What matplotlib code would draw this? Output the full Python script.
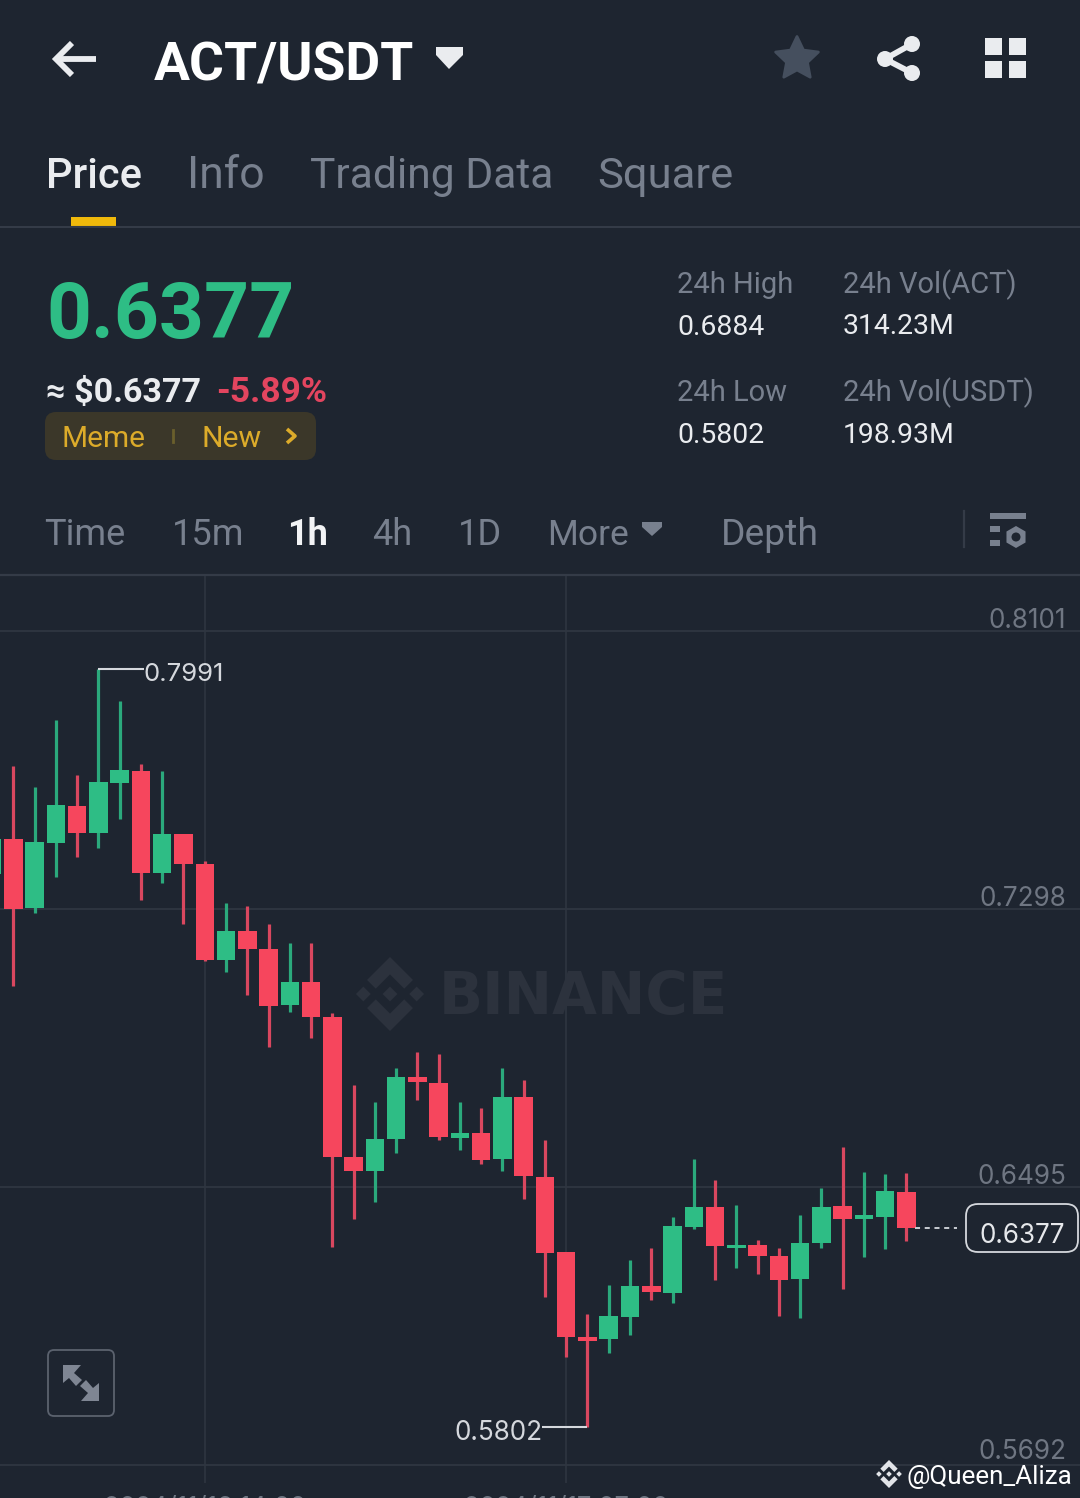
import matplotlib
matplotlib.use("Agg")
import matplotlib.pyplot as plt
from matplotlib.patches import FancyBboxPatch, Polygon, Circle, Rectangle
import numpy as np

# ---------- data ----------
candle_index = list(range(-1, 43))
opens = [0.7399, 0.7500, 0.7301, 0.7489, 0.7595, 0.7517, 0.7662, 0.7697, 0.7402, 0.7515, 0.7428,
         0.7151, 0.7234, 0.7183, 0.7021, 0.7087, 0.6986, 0.6582, 0.6542, 0.6634, 0.6813, 0.6795,
         0.6637, 0.6651, 0.6576, 0.6754, 0.6524, 0.6307, 0.6062, 0.6056, 0.6119, 0.6209, 0.6189,
         0.6379, 0.6437, 0.6319, 0.6327, 0.6296, 0.6229, 0.6333, 0.6440, 0.6403, 0.6408, 0.6480]
closes = [0.7500, 0.7298, 0.7492, 0.7598, 0.7517, 0.7665, 0.7699, 0.7402, 0.7515, 0.7428, 0.7151,
          0.7234, 0.7183, 0.7018, 0.7087, 0.6986, 0.6582, 0.6542, 0.6634, 0.6813, 0.6798, 0.6640,
          0.6651, 0.6573, 0.6754, 0.6527, 0.6304, 0.6062, 0.6050, 0.6122, 0.6209, 0.6192, 0.6382,
          0.6437, 0.6325, 0.6327, 0.6296, 0.6226, 0.6333, 0.6437, 0.6403, 0.6414, 0.6483, 0.6377]
highs = [0.7540, 0.7711, 0.7650, 0.7844, 0.7685, 0.7991, 0.7899, 0.7717, 0.7697, 0.7515, 0.7437,
         0.7315, 0.7306, 0.7255, 0.7200, 0.7200, 0.6997, 0.6789, 0.6741, 0.6839, 0.6885, 0.6879,
         0.6741, 0.6723, 0.6839, 0.6804, 0.6631, 0.6307, 0.6128, 0.6212, 0.6284, 0.6318, 0.6408,
         0.6576, 0.6515, 0.6443, 0.6342, 0.6319, 0.6414, 0.6492, 0.6611, 0.6538, 0.6533, 0.6535]
lows = [0.7370, 0.7076, 0.7286, 0.7390, 0.7448, 0.7474, 0.7558, 0.7324, 0.7373, 0.7255, 0.7148,
        0.7116, 0.7050, 0.6899, 0.7000, 0.6925, 0.6322, 0.6403, 0.6451, 0.6594, 0.6746, 0.6631,
        0.6602, 0.6562, 0.6542, 0.6461, 0.6177, 0.6003, 0.5802, 0.6015, 0.6068, 0.6169, 0.6160,
        0.6374, 0.6226, 0.6261, 0.6244, 0.6122, 0.6116, 0.6319, 0.6200, 0.6293, 0.6316, 0.6339]
price_ticks = [0.8101, 0.7298, 0.6495, 0.5692]
price_labels = ["0.8101", "0.7298", "0.6495", "0.5692"]
time_ticks = [9, 26]
time_labels = ["2024/11/16 14:00", "2024/11/17 07:00"]
high_mark = (4, 0.7991)
low_mark = (27, 0.5802)
last_price = 0.6377

BG = "#1e2530"
GRID = "#2f3641"
GREEN = "#2ebd85"
RED = "#f6465d"
WICK_RED = "#d9475f"
WICK_GREEN = "#2ba97c"
GREY = "#78808e"
WHITE = "#eaecef"
AXIS = "#6f7682"
GOLD = "#dcab2a"
CHART_FONT = "Inter"

W, H = 1080, 1498
fig = plt.figure(figsize=(W / 100, H / 100), dpi=100, facecolor=BG)

# ---------- chart axes (price scale) ----------
chart_top_px = 576
ax = fig.add_axes([0, 0, 1, (H - chart_top_px) / H])
ax.set_facecolor(BG)
px_per_price = 278 / 0.0803
ax.set_ylim(0.8101 - (H - 631) / px_per_price, 0.8101 + (631 - chart_top_px) / px_per_price)
step = 21.262
ax.set_xlim(-13.4 / step, (W - 13.4) / step)
for s in ax.spines.values():
    s.set_visible(False)
ax.set_xticks([])
ax.set_yticks([])
for p in price_ticks:
    ax.axhline(p, color=GRID, lw=1.3, zorder=1)
vline_bottom = ax.get_ylim()[0] + 15 / px_per_price
ax.vlines(time_ticks, vline_bottom, ax.get_ylim()[1], color=GRID, lw=1.1, zorder=1)

up = [c >= o for o, c in zip(opens, closes)]
wick_colors = [WICK_GREEN if u else WICK_RED for u in up]
body_colors = [GREEN if u else RED for u in up]
ax.vlines(candle_index, lows, highs, colors=wick_colors, lw=2.3, zorder=3)
ax.bar(candle_index, np.array(closes) - np.array(opens), bottom=opens, width=18.5 / step,
       color=body_colors, zorder=4, linewidth=0)

for p, lab in zip(price_ticks, price_labels):
    off = 6 if lab == price_labels[-1] else 3
    ax.annotate(lab, xy=(1, p), xycoords=ax.get_yaxis_transform(), xytext=(-14, off),
                textcoords="offset pixels", ha="right", va="baseline", color=AXIS,
                fontsize=18.8, family=CHART_FONT, zorder=5)
for t, lab in zip(time_ticks, time_labels):
    ax.annotate(lab, xy=(t, 0), xycoords=ax.get_xaxis_transform(), xytext=(0, -16),
                textcoords="offset pixels", ha="center", va="baseline", color=AXIS,
                fontsize=18.3, family=CHART_FONT, annotation_clip=False)

# high / low markers
hx, hy = high_mark
ax.plot([hx, hx + 46 / step], [hy, hy], color="#d5d8dd", lw=1.5, zorder=5, solid_capstyle="butt")
ax.annotate(f"{hy:.4f}", xy=(hx + 45 / step, hy), xytext=(0, -12), textcoords="offset pixels",
            ha="left", va="baseline", color="#d5d8dd", fontsize=18.5, family=CHART_FONT, zorder=5)
lx, ly = low_mark
ax.plot([lx - 45 / step, lx], [ly, ly], color="#d5d8dd", lw=1.5, zorder=5, solid_capstyle="butt")
ax.annotate(f"{ly:.4f}", xy=(lx - 45 / step, ly), xytext=(0, -13), textcoords="offset pixels",
            ha="right", va="baseline", color="#d5d8dd", fontsize=18.8, family=CHART_FONT, zorder=5)
# last price
ax.plot([42 + 9 / step, 42 + 51 / step], [last_price, last_price], color="#c8ccd2", lw=1.4,
        dashes=(2.6, 2.4), zorder=5)

# ---------- overlay in pixel coordinates for the app interface ----------
ui = fig.add_axes([0, 0, 1, 1], facecolor="none")
ui.set_xlim(0, W)
ui.set_ylim(H, 0)
ui.axis("off")


def T(x, y, s, size, color=GREY, weight="normal", ha="left", family="Roboto", **kw):
    ui.text(x, y, s, fontsize=size, color=color, fontweight=weight, ha=ha, va="baseline",
            family=family, **kw)


def logo(cx, cy, r, color, z=2):
    d = r * 0.2
    for dx, dy in [(0, 0), (-r * 0.72, 0), (r * 0.72, 0)]:
        ui.add_patch(Polygon([(cx + dx - d, cy + dy), (cx + dx, cy + dy - d), (cx + dx + d, cy + dy),
                              (cx + dx, cy + dy + d)], fc=color, ec="none", zorder=z))
    for sgn in (-1, 1):
        b = r * 0.62
        ui.add_patch(Polygon([(cx, cy + sgn * r), (cx + b, cy + sgn * (r - b)),
                              (cx + b * 0.62, cy + sgn * (r - b - b * 0.38)),
                              (cx, cy + sgn * (r - b * 0.76)),
                              (cx - b * 0.62, cy + sgn * (r - b - b * 0.38)),
                              (cx - b, cy + sgn * (r - b))], fc=color, ec="none", zorder=z))


# header
ui.plot([96, 58], [59, 59], color=WHITE, lw=4.2, solid_capstyle="butt")
ui.plot([72, 56, 72], [43, 59, 75], color=WHITE, lw=4.2, solid_joinstyle="miter", solid_capstyle="butt")
T(154, 80, "ACT/USDT", 38.5, "#ffffff", "bold")
ui.add_patch(Polygon([(436, 47), (463, 47), (463, 55), (449, 69), (436, 55)], fc=WHITE, ec="none"))
star_a = np.deg2rad(np.arange(0, 360, 36) - 90)
star_r = np.where(np.arange(10) % 2 == 0, 22.5, 11)
ui.add_patch(Polygon(np.c_[797 + star_r * np.cos(star_a), 59 + star_r * np.sin(star_a)], fc="#454f5e",
                     ec="#454f5e", lw=2, joinstyle="round"))
ui.plot([912, 885, 912], [44, 59, 73], color=WHITE, lw=4.2)
for cx, cy in [(912, 44), (885, 59), (912, 73)]:
    ui.add_patch(Circle((cx, cy), 8, fc=WHITE, ec="none"))
for x0, x1 in [(985, 1002), (1009, 1026)]:
    for y0, y1 in [(38, 55), (61, 78)]:
        ui.add_patch(Rectangle((x0, y0), x1 - x0, y1 - y0, fc=WHITE, ec="none"))

# tabs
T(46, 188, "Price", 30, WHITE, "medium")
T(187, 188, "Info", 32)
T(310, 188, "Trading Data", 30.7)
T(597, 188, "Square", 31.3)
ui.add_patch(Rectangle((71, 217), 45, 9, fc="#f0b90b", ec="none"))
ui.plot([0, W], [227, 227], color="#343b47", lw=1.5)

# price block
T(46, 338, "0.6377", 56.5, GREEN, "bold")
T(46, 402, "≈ $0.6377", 24.5, WHITE, "bold")
T(216, 402, "-5.89%", 25.5, "#e3455f", "bold")
ui.add_patch(FancyBboxPatch((55, 422), 251, 28, boxstyle="round,pad=10,rounding_size=11",
                            fc="#3b3729", ec="none"))
T(62, 447, "Meme", 21.5, GOLD)
ui.plot([173, 173], [430, 442], color="#6a5f2c", lw=2)
T(202, 447, "New", 21.7, GOLD)
ui.plot([287, 295, 287], [429, 436, 443], color=GOLD, lw=2.6, solid_capstyle="butt")

# stats
T(677, 293, "24h High", 21)
T(677, 335, "0.6884", 20.4, WHITE)
T(843, 293, "24h Vol(ACT)", 21)
T(843, 334, "314.23M", 20.4, WHITE)
T(677, 401, "24h Low", 21)
T(677, 443, "0.5802", 20.4, WHITE)
T(843, 401, "24h Vol(USDT)", 21)
T(843, 443, "198.93M", 20.4, WHITE)

# interval row
T(44, 545, "Time", 26)
T(172, 545, "15m", 26)
T(287, 545, "1h", 26, "#f2f3f5", "bold")
T(372, 545, "4h", 26)
T(458, 545, "1D", 26)
T(547, 545, "More", 25.5)
ui.add_patch(Polygon([(642, 522), (662, 522), (662, 527), (652, 536), (642, 527)], fc=GREY, ec="none"))
T(721, 545, "Depth", 26.8)
ui.plot([964, 964], [511, 547], color="#343b47", lw=1.6)
ui.add_patch(Rectangle((990, 513), 36, 6, fc=GREY, ec="none"))
ui.add_patch(Rectangle((990, 526), 10, 6, fc=GREY, ec="none"))
ui.add_patch(Rectangle((990, 540), 10, 6, fc=GREY, ec="none"))
hex_a = np.deg2rad(np.arange(0, 360, 60) + 30)
ui.add_patch(Polygon(np.c_[1016 + 11 * np.cos(hex_a), 537 + 11 * np.sin(hex_a)], fc=GREY, ec="none"))
ui.add_patch(Circle((1016, 537), 4.5, fc=BG, ec="none"))
ui.plot([0, W], [575, 575], color="#343b47", lw=1.6)

# watermark
logo(390, 994, 37, "#2c323d", z=0.5)
T(439, 1014, "BINANCE", 41.7, "#2c323d", "bold", family="DejaVu Sans", zorder=0.5)

# last price tag
ui.add_patch(FancyBboxPatch((978, 1216), 88, 24, boxstyle="round,pad=12,rounding_size=12",
                            fc=BG, ec="#d5d8dd", lw=1.3))
T(1065, 1243, "0.6377", 18.8, "#e6e8eb", ha="right", family=CHART_FONT)

# expand button
ui.add_patch(FancyBboxPatch((54, 1356), 54, 54, boxstyle="round,pad=6,rounding_size=6",
                            fc=BG, ec="#5b626e", lw=1.3))
ui.add_patch(Polygon([(63, 1365), (81, 1365), (74, 1373), (82, 1380), (76, 1386), (69, 1378), (63, 1383)],
                     fc="#7f8693", ec="none"))
ui.add_patch(Polygon([(99, 1401), (81, 1401), (88, 1393), (80, 1386), (86, 1380), (93, 1388), (99, 1383)],
                     fc="#7f8693", ec="none"))

# author tag
logo(889, 1474, 14, "#e2e4e8", z=6)
T(906, 1484, "@Queen_Aliza", 18.7, "#ffffff", zorder=6)

fig.savefig("out.png", dpi=100, facecolor=BG)
